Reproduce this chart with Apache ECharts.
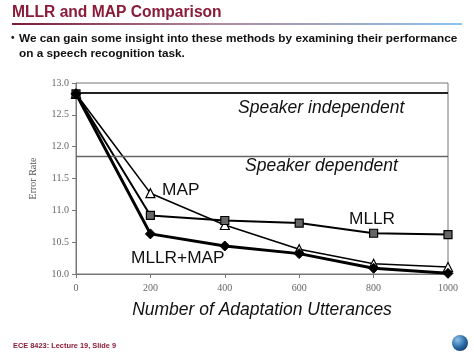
<!DOCTYPE html>
<html><head><meta charset="utf-8">
<script src="https://cdn.jsdelivr.net/npm/echarts@6/dist/echarts.min.js"></script>
<style>html,body{margin:0;padding:0;background:#fff}#c{width:474px;height:355px}</style>
</head><body><div id="c"></div>
<script>
var utterances = [0, 200, 400, 600, 800, 1000];
var mapRate = [12.83, 11.27, 10.77, 10.39, 10.16, 10.11];
var mllrRate = [12.83, 10.92, 10.84, 10.80, 10.64, 10.62];
var mllrMapRate = [12.83, 10.63, 10.44, 10.32, 10.09, 10.01];
var speakerIndependent = 12.84;
var speakerDependent = 11.85;
var xTicks = [0, 200, 400, 600, 800, 1000];
var yTicks = [10.0, 10.5, 11.0, 11.5, 12.0, 12.5, 13.0];

function pairs(vals){ return utterances.map(function(x,i){ return [x, vals[i]]; }); }

var chart = echarts.init(document.getElementById('c'), null, {renderer:'canvas'});
var serif = 'Liberation Serif';
var sans = 'Liberation Sans';
chart.setOption({
  animation:false,
  grid:{left:76, right:26, top:83, bottom:81, show:true, borderColor:'#777', borderWidth:1},
  xAxis:{type:'value', min:xTicks[0], max:xTicks[xTicks.length-1], interval:xTicks[1]-xTicks[0],
    axisLine:{show:true, lineStyle:{color:'#777'}}, axisTick:{show:true, inside:false, length:4, lineStyle:{color:'#777'}},
    splitLine:{show:false},
    axisLabel:{fontFamily:serif, fontSize:10, color:'#666', margin:9, formatter:function(v){return String(v);}},
    name:'Number of Adaptation Utterances', nameLocation:'middle', nameGap:27,
    nameTextStyle:{fontFamily:sans, fontSize:17.5, fontStyle:'italic', color:'#111'}},
  yAxis:{type:'value', min:yTicks[0], max:yTicks[yTicks.length-1], interval:yTicks[1]-yTicks[0],
    axisLine:{show:true, lineStyle:{color:'#777'}}, axisTick:{show:true, length:4, lineStyle:{color:'#777'}},
    splitLine:{show:false},
    axisLabel:{fontFamily:serif, fontSize:10, color:'#666', margin:7, formatter:function(v){return v.toFixed(1);}},
    name:'Error Rate', nameLocation:'middle', nameGap:38,
    nameTextStyle:{fontFamily:serif, fontSize:10, color:'#555'}},
  series:[
    {name:'MAP', type:'line', data:pairs(mapRate), symbol:'triangle', symbolSize:9,
      lineStyle:{color:'#000', width:1.6}, itemStyle:{color:'#fff', borderColor:'#000', borderWidth:1.2}, z:3,
      markLine:{silent:true, symbol:'none', label:{show:false},
        data:[{yAxis:speakerIndependent, lineStyle:{color:'#222', width:2.2, type:'solid'}},
              {yAxis:speakerDependent, lineStyle:{color:'#666', width:1.3, type:'solid'}}]}},
    {name:'MLLR', type:'line', data:pairs(mllrRate), symbol:'rect', symbolSize:8,
      lineStyle:{color:'#000', width:2}, itemStyle:{color:'#666', borderColor:'#000', borderWidth:1.2}, z:4},
    {name:'MLLR+MAP', type:'line', data:pairs(mllrMapRate), symbol:'diamond', symbolSize:10,
      lineStyle:{color:'#000', width:3}, itemStyle:{color:'#000', borderColor:'#000'}, z:5}
  ],
  graphic:[
    {type:'text', left:12, top:5, style:{text:'MLLR and MAP Comparison', font:'bold 15.6px "Liberation Sans"', fill:'#8a1c3a'}},
    {type:'rect', shape:{x:12, y:23, width:450, height:2}, style:{fill:new echarts.graphic.LinearGradient(0,0,1,0,[{offset:0,color:'#7a1a35'},{offset:0.45,color:'#b08aa0'},{offset:1,color:'#8cc4ee'}])}},
    {type:'text', x:11, y:33, style:{text:'•', font:'bold 10px "Liberation Sans"', fill:'#222'}},
    {type:'text', x:19, y:31, style:{text:'We can gain some insight into these methods by examining their performance\non a speech recognition task.', font:'bold 11.8px "Liberation Sans"', fill:'#111', lineHeight:15}},
    {type:'text', x:238, y:99, style:{text:'Speaker independent', font:'italic 17.5px "Liberation Sans"', fill:'#111'}},
    {type:'text', x:245, y:157, style:{text:'Speaker dependent', font:'italic 17.5px "Liberation Sans"', fill:'#111'}},
    {type:'text', x:162, y:182, style:{text:'MAP', font:'17.3px "Liberation Sans"', fill:'#111'}},
    {type:'text', x:349, y:211, style:{text:'MLLR', font:'17.3px "Liberation Sans"', fill:'#111'}},
    {type:'text', x:131, y:250, style:{text:'MLLR+MAP', font:'17.3px "Liberation Sans"', fill:'#111'}},
    {type:'text', x:13, y:342, style:{text:'ECE 8423: Lecture 19, Slide 9', font:'bold 7.4px "Liberation Sans"', fill:'#8a1c3a'}},
    {type:'circle', shape:{cx:460, cy:343, r:8}, style:{fill:new echarts.graphic.RadialGradient(0.35,0.3,0.8,[{offset:0,color:'#8fc3ea'},{offset:0.6,color:'#2a6aa5'},{offset:1,color:'#123a66'}])}}
  ]
});
</script></body></html>
